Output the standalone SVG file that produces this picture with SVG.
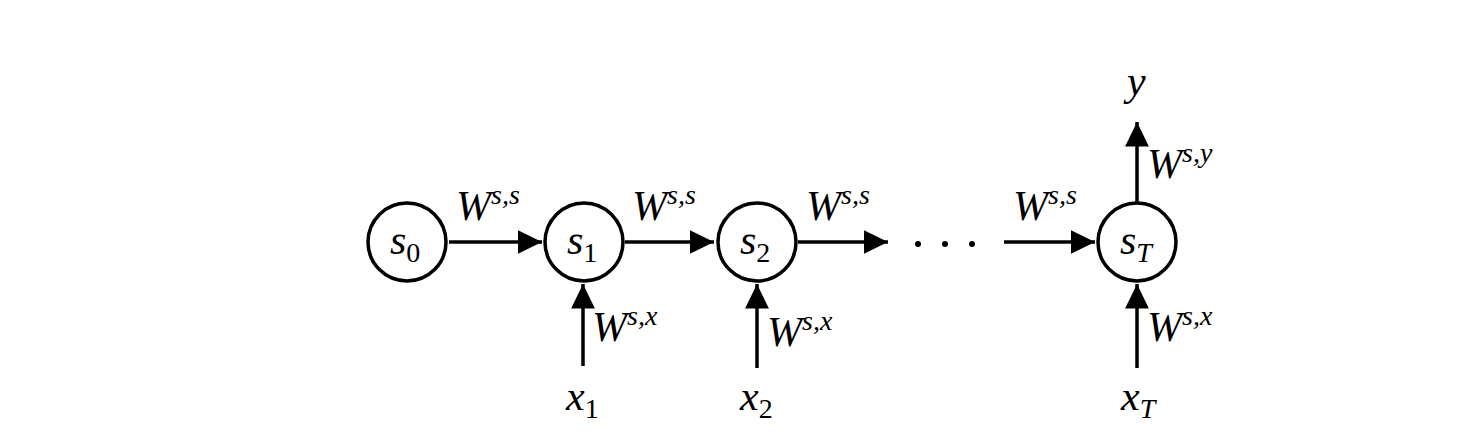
<svg xmlns="http://www.w3.org/2000/svg" width="1474" height="435" viewBox="0 0 1474 435">
<style>
text{font-family:"Liberation Serif",serif;fill:#000}
.i{font-style:italic}
.n circle{fill:#fff;stroke:#000;stroke-width:3.5}
.c line{stroke:#000;stroke-width:3.5}
.m{font-size:42px}
.s{font-size:28px}
</style>
<defs><marker id="a" markerWidth="8" markerHeight="8" refX="7" refY="4" orient="auto" markerUnits="strokeWidth"><path d="M0,0.6L7,4L0,7.4Z" fill="#000"/></marker></defs>
<rect width="1474" height="435" fill="#fff"/>
<g class="c">
<line x1="449" y1="242" x2="542" y2="242" marker-end="url(#a)"/>
<line x1="625" y1="242" x2="714" y2="242" marker-end="url(#a)"/>
<line x1="798" y1="242" x2="888" y2="242" marker-end="url(#a)"/>
<line x1="1004" y1="242" x2="1095" y2="242" marker-end="url(#a)"/>
<line x1="583" y1="366" x2="583" y2="284" marker-end="url(#a)"/>
<line x1="757" y1="368" x2="757" y2="284" marker-end="url(#a)"/>
<line x1="1137" y1="368" x2="1137" y2="284" marker-end="url(#a)"/>
<line x1="1137" y1="202" x2="1137" y2="122" marker-end="url(#a)"/>
</g>
<g fill="#000"><circle cx="918" cy="244" r="3"/><circle cx="945" cy="244" r="3"/><circle cx="972" cy="244" r="3"/></g>
<g id="s0" class="n"><circle cx="407" cy="242" r="39"/><text x="390" y="254"><tspan class="i m">s</tspan><tspan class="s" dy="8">0</tspan></text></g>
<g id="s1" class="n"><circle cx="584" cy="242" r="39"/><text x="567" y="254"><tspan class="i m">s</tspan><tspan class="s" dy="8">1</tspan></text></g>
<g id="s2" class="n"><circle cx="757" cy="242" r="39"/><text x="740" y="254"><tspan class="i m">s</tspan><tspan class="s" dy="8">2</tspan></text></g>
<g id="sT" class="n"><circle cx="1137" cy="242" r="39"/><text x="1120" y="254"><tspan class="i m">s</tspan><tspan class="i s" dy="8">T</tspan></text></g>
<g id="x1"><text x="566" y="410"><tspan class="i m">x</tspan><tspan class="s" dy="8">1</tspan></text></g>
<g id="x2"><text x="740" y="410"><tspan class="i m">x</tspan><tspan class="s" dy="8">2</tspan></text></g>
<g id="xT"><text x="1121" y="410"><tspan class="i m">x</tspan><tspan class="i s" dy="8">T</tspan></text></g>
<g id="y"><text x="1127" y="95" class="i m">y</text></g>
<g class="i">
<text x="456" y="220"><tspan class="m">W</tspan><tspan class="s" dy="-16">s,s</tspan></text>
<text x="632" y="220"><tspan class="m">W</tspan><tspan class="s" dy="-16">s,s</tspan></text>
<text x="806" y="220"><tspan class="m">W</tspan><tspan class="s" dy="-16">s,s</tspan></text>
<text x="1013" y="220"><tspan class="m">W</tspan><tspan class="s" dy="-16">s,s</tspan></text>
<text x="592" y="341"><tspan class="m">W</tspan><tspan class="s" dy="-16">s,x</tspan></text>
<text x="767" y="346"><tspan class="m">W</tspan><tspan class="s" dy="-16">s,x</tspan></text>
<text x="1147" y="341"><tspan class="m">W</tspan><tspan class="s" dy="-16">s,x</tspan></text>
<text x="1147" y="178"><tspan class="m">W</tspan><tspan class="s" dy="-16">s,y</tspan></text>
</g>
</svg>
